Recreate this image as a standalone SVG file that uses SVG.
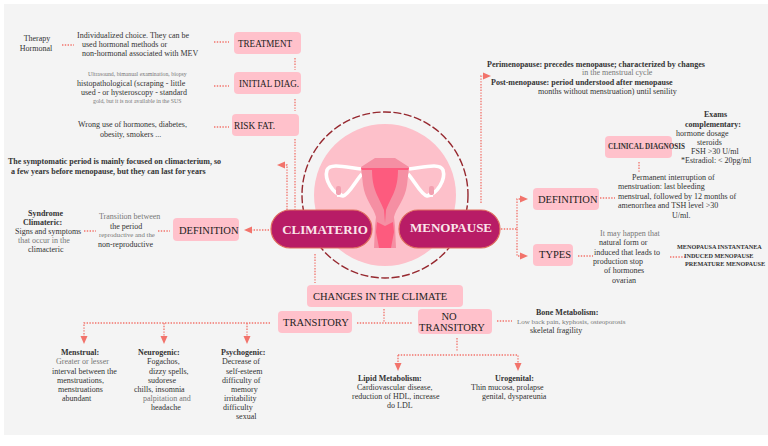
<svg xmlns="http://www.w3.org/2000/svg" width="768" height="446" viewBox="0 0 768 446">
<style>
text{font-family:"Liberation Serif","Times New Roman",serif;fill:#333;font-size:8px}
.b{font-weight:bold}
.g{fill:#777}
.s{font-size:5.800px;fill:#777}
.box{fill:#ffc1cb}
.lab{font-size:10.500px;fill:#222}
.pill{fill:#b81c66;stroke:#e0705f;stroke-width:1.2}
.pt{font-size:13px;font-weight:bold;fill:#fbe6ea;text-anchor:middle}
.c{fill:none;stroke:#f2736b;stroke-width:1.3;stroke-dasharray:1.4 1.4}
.m{text-anchor:middle}
</style>
<defs>
<marker id="ah" markerWidth="9" markerHeight="8" refX="1" refY="4" orient="auto" markerUnits="userSpaceOnUse"><path d="M0 0.500L8 4L0 7.500Z" fill="#f2736b"/></marker>
</defs>
<rect width="768" height="446" fill="#fff"/>
<rect x="4" y="4" width="764" height="431" fill="#f4f4f4"/>
<g id="art">
<circle cx="385" cy="195" r="71" fill="#fdc0ca"/>
<circle cx="385" cy="195" r="83" fill="none" stroke="#96282f" stroke-width="1.4" stroke-dasharray="8 2.5"/>
<path d="M361 169C345 167 330 163 327 170C324 180 333 194 343 196C349 195 356 180 362 174" fill="none" stroke="#fff" stroke-width="3.6"/>
<path d="M409 169C425 167 440 163 443 170C446 180 437 194 427 196C421 195 414 180 408 174" fill="none" stroke="#fff" stroke-width="3.6"/>
<path d="M337 189L345 196L337 197Z" fill="#fff"/><path d="M433 189L425 196L433 197Z" fill="#fff"/>
<rect x="336" y="186" width="5" height="9" fill="#f2a0b0" rx="2"/><rect x="429" y="186" width="5" height="9" fill="#f2a0b0" rx="2"/>
<path d="M361 167L375 158H395L409 167L407 185C405 200 396 208 394 217L395 226L396 248H374L375 226L376 217C374 208 365 200 363 185Z" fill="#f58fa3"/>
<path d="M361 168H409L408 170H362Z" fill="#fd5b7e"/>
<path d="M372 169H398C398 190 392 195 386 210L385 223L384 210C378 195 372 190 372 169Z" fill="#fd5b7e"/>
<path d="M377 222L385 226L393 222L394 232L391 248H379L376 232Z" fill="#fd5b7e"/>
</g>
<g id="connectors">
<path class="c" d="M295 58V70M295 99V111M295 139V210"/>
<path class="c" d="M287 210V165H284" marker-end="url(#ah)"/>
<path class="c" d="M481 203V76H484" marker-end="url(#ah)"/>
<path class="c" d="M269 230H251" marker-end="url(#ah)"/>
<path class="c" d="M501 229H517V199H521" marker-end="url(#ah)"/>
<path class="c" d="M517 229V256H521" marker-end="url(#ah)"/>
<path class="c" d="M62 45H74M214 42H229M214 86H229M214 127H229M84 231H96M158 231H170M600 198H615M578 256H593M670 257H685M672 145H678M639 162V172"/>
<path class="c" d="M315 254V283M384 309V323M357 323H413M497 321H512M457 338V352"/>
<path class="c" d="M398 355V364" marker-end="url(#ah)"/>
<path class="c" d="M398 355H518V364" marker-end="url(#ah)"/>
<path class="c" d="M270 323H84V337" marker-end="url(#ah)"/>
<path class="c" d="M164 323V337" marker-end="url(#ah)"/>
<path class="c" d="M247 323V337" marker-end="url(#ah)"/>
</g>
<g id="treatment"><rect class="box" x="234" y="32" width="67" height="22" rx="4"/><text class="lab" x="238" y="46.500" textLength="54" lengthAdjust="spacingAndGlyphs">TREATMENT</text></g>
<g id="initial-diag"><rect class="box" x="234" y="72" width="67" height="22" rx="4"/><text class="lab" x="239" y="87" textLength="60" lengthAdjust="spacingAndGlyphs">INITIAL DIAG.</text></g>
<g id="risk-fat"><rect class="box" x="232" y="114" width="67" height="22" rx="4"/><text class="lab" x="234" y="129" textLength="41" lengthAdjust="spacingAndGlyphs">RISK FAT.</text></g>
<g id="definition-left"><rect class="box" x="173" y="218" width="66" height="23" rx="4"/><text class="lab" x="179" y="233.500">DEFINITION</text></g>
<g id="clinical-diagnosis"><rect class="box" x="605" y="136" width="67" height="22" rx="4"/><text class="b" x="608" y="148.500" textLength="77" lengthAdjust="spacingAndGlyphs">CLINICAL DIAGNOSIS</text></g>
<g id="definition-right"><rect class="box" x="533" y="188" width="66" height="22" rx="4"/><text class="lab" x="538" y="203">DEFINITION</text></g>
<g id="types"><rect class="box" x="533" y="244" width="40" height="22" rx="4"/><text class="lab" x="539" y="257.500">TYPES</text></g>
<g id="changes"><rect class="box" x="307" y="285" width="156" height="22" rx="4"/><text class="lab" x="313" y="299.500">CHANGES IN THE CLIMATE</text></g>
<g id="transitory"><rect class="box" x="278" y="311" width="74" height="22" rx="4"/><text class="lab" x="283" y="325.500">TRANSITORY</text></g>
<g id="no-transitory"><rect class="box" x="418" y="309" width="74" height="25" rx="4"/><text class="lab m" x="449" y="320">NO</text><text class="lab" x="419" y="331">TRANSITORY</text></g>
<g id="climaterio"><rect class="pill" x="271" y="210" width="101" height="38" rx="19"/><text class="pt" x="325" y="233.500">CLIMATERIO</text></g>
<g id="menopause"><rect class="pill" x="399" y="210" width="101" height="38" rx="19"/><text class="pt" x="451" y="232">MENOPAUSE</text></g>
<g id="texts-left">
<text class="m" x="37" y="41">Therapy</text><text class="m" x="36" y="51">Hormonal</text>
<text x="77" y="38">Individualized choice. They can be</text><text x="82" y="47">used hormonal methods or</text><text x="82" y="56">non-hormonal associated with MEV</text>
<text class="s" x="88" y="75.500">Ultrasound, bimanual examination, biopsy</text>
<text x="77" y="86">histopathological (scraping - little</text><text x="81" y="95">used - or hysteroscopy - standard</text><text class="s" x="93" y="103">gold, but it is not available in the SUS</text>
<text x="78" y="127">Wrong use of hormones, diabetes,</text><text x="100" y="137">obesity, smokers ...</text>
<text class="b" x="8" y="164">The symptomatic period is mainly focused on climacterium, so</text><text class="b" x="11" y="174">a few years before menopause, but they can last for years</text>
<text class="b" x="28" y="216">Syndrome</text><text class="b" x="23" y="225">Climateric:</text><text x="15" y="234">Signs and symptoms</text><text class="g" x="18" y="243">that occur in the</text><text x="28" y="252">climacteric</text>
<text class="g" x="99" y="219">Transition between</text><text x="110" y="229">the period</text><text class="g" x="99" y="237" style="font-size:6.800px">reproductive and the</text><text x="98" y="247">non-reproductive</text>
</g>
<g id="texts-right">
<text class="b" x="487" y="67">Perimenopause: precedes menopause; characterized by changes</text><text class="g" x="582" y="75">in the menstrual cycle</text>
<text class="b" x="491" y="85">Post-menopause: period understood after menopause</text><text x="538" y="94">months without menstruation) until senility</text>
<text class="b" x="704" y="117">Exams</text><text class="b" x="685" y="127">complementary:</text><text x="676" y="135.500">hormone dosage</text><text x="697" y="145">steroids</text><text x="691" y="154">FSH &gt;30 U/ml</text><text x="681" y="163">*Estradiol: &lt; 20pg/ml</text>
<text x="632" y="180">Permanent interruption of</text><text x="618" y="189">menstruation: last bleeding</text><text x="618" y="199">menstrual, followed by 12 months of</text><text x="618" y="208">amenorrhea and TSH level &gt;30</text><text x="672" y="218">U/ml.</text>
<text class="g" x="600" y="236">It may happen that</text><text x="599" y="245">natural form or</text><text x="594" y="255">induced that leads to</text><text x="593" y="264">production stop</text><text x="604" y="273">of hormones</text><text x="612" y="283">ovarian</text>
<text class="b" x="677" y="249" style="font-size:6.200px">MENOPAUSA INSTANTANEA</text><text class="b" x="684" y="257.500" style="font-size:6.200px">INDUCED MENOPAUSE</text><text class="b" x="685" y="266" style="font-size:6.200px">PREMATURE MENOPAUSE</text>
<text class="b" x="536" y="315">Bone Metabolism:</text><text class="g" x="517" y="324" style="font-size:7px">Low back pain, kyphosis, osteoporosis</text><text x="530" y="333">skeletal fragility</text>
</g>
<g id="texts-bottom">
<text class="b" x="358" y="381">Lipid Metabolism:</text><text x="357" y="390">Cardiovascular disease,</text><text x="352" y="399">reduction of HDL, increase</text><text x="387" y="408">do LDL</text>
<text class="b" x="495" y="381">Urogenital:</text><text x="471" y="390">Thin mucosa, prolapse</text><text x="482" y="399">genital, dyspareunia</text>
<text class="b" x="61" y="355">Menstrual:</text><text class="g" x="56" y="364">Greater or lesser</text><text x="52" y="374">interval between the</text><text x="57" y="383">menstruations,</text><text x="58" y="392">menstruations</text><text x="62" y="401">abundant</text>
<text class="b" x="138" y="355">Neurogenic:</text><text x="147" y="364">Fogachos,</text><text x="149" y="374">dizzy spells,</text><text x="148" y="383">sudorese</text><text x="134" y="392">chills, insomnia</text><text class="g" x="143" y="401">palpitation and</text><text x="151" y="410">headache</text>
<text class="b" x="221" y="355">Psychogenic:</text><text x="222" y="364">Decrease of</text><text x="226" y="374">self-esteem</text><text x="222" y="383">difficulty of</text><text x="231" y="392">memory</text><text x="224" y="401">irritability</text><text x="223" y="410">difficulty</text><text x="236" y="419">sexual</text>
</g>
</svg>
